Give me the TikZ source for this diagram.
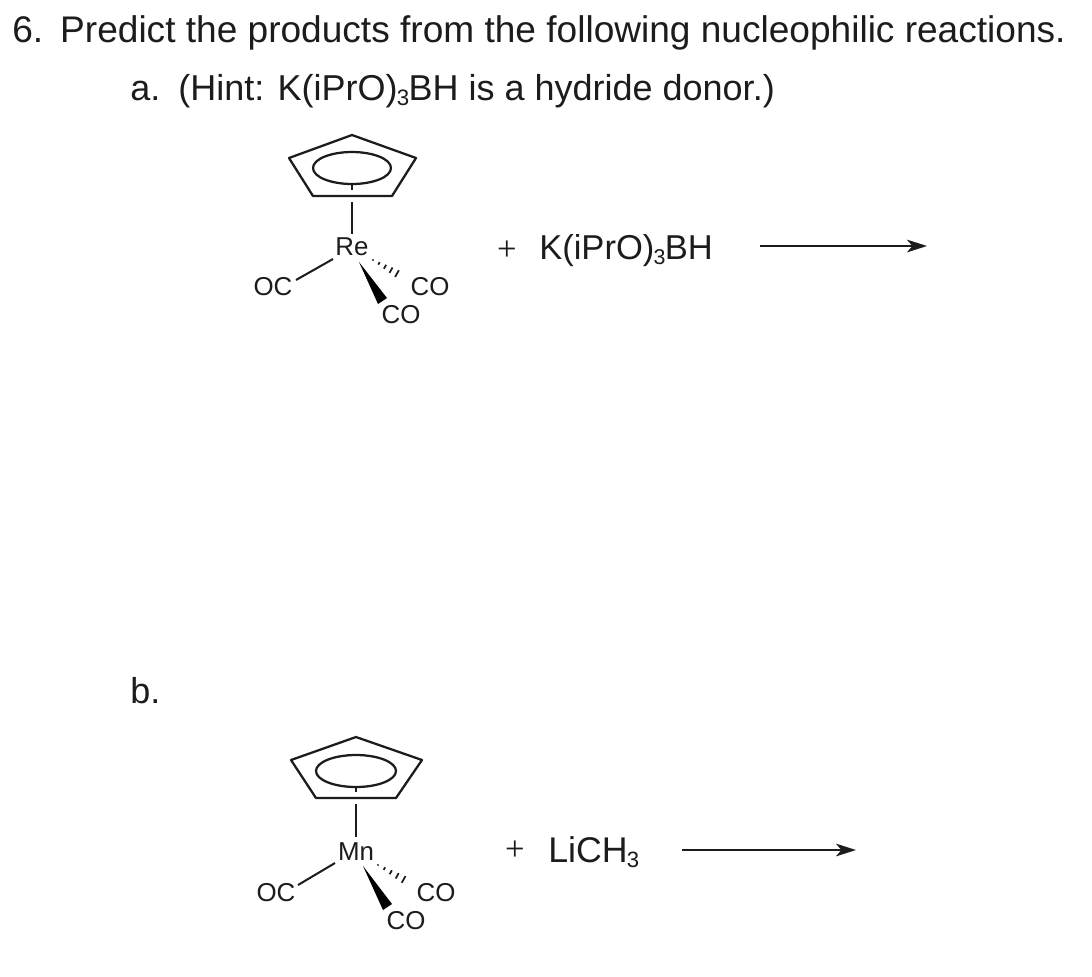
\documentclass[tikz,border=0pt]{standalone}
\usepackage{fontspec}
\setmainfont{Liberation Sans}
\usetikzlibrary{arrows.meta,calc}
\definecolor{ink}{HTML}{1C1C1C}
\newcommand{\sz}[1]{\fontsize{#1}{#1}\selectfont}
\newcommand{\subdig}[1]{\kern-0.02em\raisebox{-0.16em}{\fontsize{0.62em}{0.62em}\selectfont #1}\kern-0.02em}
\tikzset{
  x=0.75pt,y=-0.75pt,
  bond/.style={draw=ink,line width=1.7pt,line cap=round,line join=round},
  thinbond/.style={draw=ink,line width=1.5pt},
  wedgebond/.style={fill=black,draw=none},
  hashbond/.style={draw=ink,line width=1.3pt},
  atom/.style={inner sep=0pt,text=ink,font=\sz{19.4}},
  heading/.style={inner sep=0pt,anchor=base west,text=ink,font=\sz{27.8}},
  subheading/.style={inner sep=0pt,anchor=base west,text=ink,font=\sz{27.0}},
  reagent/.style={inner sep=0pt,anchor=base west,text=ink,font=\sz{25.9}},
  reagentb/.style={inner sep=0pt,anchor=base west,text=ink,font=\sz{26.8}},
  plussign/.style={inner sep=0pt,text=ink,font=\sz{26}\fontspec{Liberation Serif}},
  rxn/.style={draw=ink,line width=1.5pt,-{Stealth[length=15pt,width=9.5pt,inset=4pt]}}
}
\newcommand{\hashes}[2]{%
  \foreach \t/\w in {0/0.5,0.2/1.1,0.4/1.7,0.6/2.3,0.8/2.9,1/3.5}{
    \coordinate (hc) at ($(#1)!\t!(#2)$);
    \draw[hashbond] ($(hc)!\w pt!90:(#2)$) -- ($(hc)!\w pt!-90:(#2)$);
  }}
\begin{document}
\begin{tikzpicture}
\useasboundingbox (0,0) rectangle (1092,976);
\fill[white] (0,0) rectangle (1092,976);
\node[heading] (title) at (12,42) {6.\hspace{0.46em}Predict the products from the following nucleophilic reactions.};
\node[subheading] (parta) at (130,100) {a.\hspace{0.5em}(Hint: K(iPrO)\subdig{3}BH is a hydride donor.)};
\node[subheading] (partb) at (130,703) {b.};

% Re complex
\coordinate (r1) at (352,135); \coordinate (r2) at (416,158); \coordinate (r3) at (392,196);
\coordinate (r4) at (313,196); \coordinate (r5) at (289,158);
\draw[bond] (r1) -- (r2) -- (r3) -- (r4) -- (r5) -- cycle;
\draw[bond] (352,168) ellipse [x radius=39,y radius=16];
\node[atom] (Re) at (352,247) {Re};
\node[atom] (OCa) at (273,287) {OC};
\node[atom] (COa) at (430,287) {CO};
\node[atom] (COb) at (401,315) {CO};
\coordinate (t1) at (352,184); \coordinate (t2) at (352,190);
\coordinate (t3) at (352,202); \coordinate (t4) at (352,234);
\draw[thinbond] (t1) -- (t2);
\draw[thinbond] (t3) -- (t4);
\coordinate (oa1) at (333,259); \coordinate (oa2) at (296,280);
\draw[thinbond] (oa1) -- (oa2);
\coordinate (ha1) at (373,260); \coordinate (ha2) at (403,277);
\hashes{ha1}{ha2}
\fill[wedgebond] (359,262) -- (387,298) -- (378,304) -- cycle;

\node[plussign] (plusa) at (507,251) {+};
\node[reagent] (Ka) at (539,259) {K(iPrO)\subdig{3}BH};
\coordinate (arra1) at (760,246); \coordinate (arra2) at (927,246);
\draw[rxn] (arra1) -- (arra2);

% Mn complex
\coordinate (m1) at (356,737); \coordinate (m2) at (422,760); \coordinate (m3) at (396,798);
\coordinate (m4) at (316,798); \coordinate (m5) at (291,760);
\draw[bond] (m1) -- (m2) -- (m3) -- (m4) -- (m5) -- cycle;
\draw[bond] (356,771) ellipse [x radius=40,y radius=16];
\node[atom] (Mn) at (356,852) {Mn};
\node[atom] (OCb) at (276,893) {OC};
\node[atom] (COc) at (436,893) {CO};
\node[atom] (COd) at (406,921) {CO};
\coordinate (u1) at (356,787); \coordinate (u2) at (356,792);
\coordinate (u3) at (356,804); \coordinate (u4) at (356,837);
\draw[thinbond] (u1) -- (u2);
\draw[thinbond] (u3) -- (u4);
\coordinate (ob1) at (335,863); \coordinate (ob2) at (298,885);
\draw[thinbond] (ob1) -- (ob2);
\coordinate (hb1) at (378,865); \coordinate (hb2) at (410,883);
\hashes{hb1}{hb2}
\fill[wedgebond] (363,866) -- (392,904) -- (383,910) -- cycle;

\node[plussign] (plusb) at (515,851) {+};
\node[reagentb] (Li) at (548,862) {LiCH\subdig{3}};
\coordinate (arrb1) at (682,850); \coordinate (arrb2) at (856,850);
\draw[rxn] (arrb1) -- (arrb2);
\end{tikzpicture}
\end{document}
